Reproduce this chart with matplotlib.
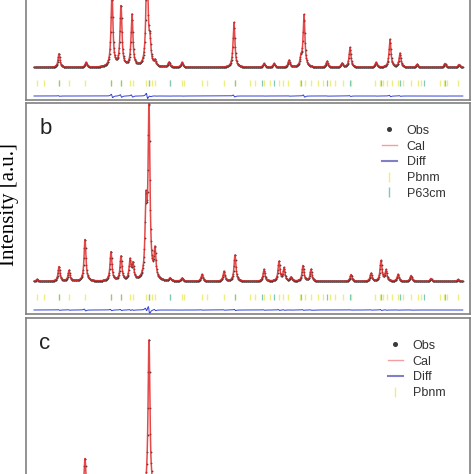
import numpy as np
import matplotlib
matplotlib.use("Agg")
import matplotlib.pyplot as plt
from matplotlib.lines import Line2D

# peak positions (2theta-like units) and heights (a.u.) per panel
pos_a = [59, 86, 112, 121, 132, 147, 150, 155, 169, 182, 234, 264, 274, 289, 301, 304, 327, 342, 350, 376, 390, 400, 417, 445, 459]
hgt_a = [14, 5, 75, 62, 52, 120, 20, 5, 5, 5, 45, 4, 4, 7, 8, 52, 6, 4, 20, 5, 28, 14, 3, 4, 3]
pos_b = [37, 59, 69, 85, 111, 121, 130, 133, 146, 149, 155, 170, 182, 202, 224, 235, 264, 279, 284, 291, 303, 311, 351, 371, 381, 386, 398, 411, 431, 458]
hgt_b = [2, 15, 11, 43, 30, 25, 20, 16, 70, 173, 29, 3, 3, 7, 10, 27, 12, 20, 13, 4, 16, 12, 7, 8, 21, 11, 7, 6, 3, 2]
pos_c = [59, 85, 111, 121, 131, 149, 155, 235, 281, 304, 382]
hgt_c = [10, 39, 20, 18, 15, 161, 12, 18, 14, 12, 14]
pbnm = [37, 44, 59, 69, 85, 111, 121, 130, 133, 146, 149, 152, 155, 170, 182, 184, 202, 207, 224, 235, 250, 255, 264, 270, 279, 283, 288, 300, 305, 311, 318, 323, 330, 335, 343, 351, 375, 380, 383, 387, 392, 398, 403, 411, 418, 421, 440, 444, 447, 458]
p63cm = [59, 111, 121, 149, 170, 235, 262, 274, 301, 327, 350, 381, 400, 424, 445]

x = np.arange(34, 463, 0.4)

def profile(pos, hgt):
    y = np.zeros_like(x)
    for p, h in zip(pos, hgt):
        y += h / (1 + ((x - p) / 1.1) ** 2)
    return y + 1.5

fig = plt.figure(figsize=(4.74, 4.74), dpi=100)
plt.rcParams['font.family'] = ['Liberation Sans', 'DejaVu Sans']
H = 474.0
C_OBS, C_CAL, C_DIF, C_PB, C_P6 = '#3a3a3a', '#e02828', '#3040d8', '#eeee80', '#80c8b8'

def panel(top_px, bot_px, pos, hgt, label, legend, with_p63):
    ax = fig.add_axes([26 / H, 1 - bot_px / H, 444 / H, (bot_px - top_px) / H])
    cal = profile(pos, hgt)
    ax.plot(x, cal, 'o', color=C_OBS, ms=1.3, mew=0, zorder=3)
    ax.plot(x, cal, color=C_CAL, lw=1.1, alpha=0.85, zorder=4)
    diff = -27 + np.gradient(cal) * 0.1
    ax.plot(x, diff, color=C_DIF, lw=0.7)
    ax.vlines(pbnm, -17, -11, color=C_PB, lw=1.0)
    if with_p63:
        ax.vlines(p63cm, -17, -11, color=C_P6, lw=0.9)
    ax.set_xlim(26, 470)
    ax.set_ylim(-31, 180)
    ax.set_xticks([]); ax.set_yticks([])
    for s in ax.spines.values():
        s.set_color('#808080'); s.set_linewidth(1.2)
    if label:
        ax.text(0.03, 0.93, label, transform=ax.transAxes, fontsize=16, va='top', color='#222222')
    if legend:
        hh = [Line2D([], [], ls='none', marker='o', ms=2.6, color=C_OBS),
              Line2D([], [], color='#f0a0a0', lw=1),
              Line2D([], [], color='#8080c8', lw=1.5),
              Line2D([], [], ls='none', marker='|', ms=7, color=C_PB),
              Line2D([], [], ls='none', marker='|', ms=7, color=C_P6)]
        ll = ['Obs', 'Cal', 'Diff', 'Pbnm', 'P63cm']
        if not with_p63:
            hh, ll = hh[:4], ll[:4]
        leg = ax.legend(hh, ll, loc='upper right', frameon=False, fontsize=9,
                        bbox_to_anchor=(0.97, 0.95), handlelength=1.2, labelspacing=0.3)
        for t in leg.get_texts():
            t.set_color('#333333')
    return ax

panel(-111, 100, pos_a, hgt_a, None, False, True)
panel(103, 314, pos_b, hgt_b, 'b', True, True)
panel(318, 529, pos_c, hgt_c, 'c', True, False)

fig.text(10 / H, 1 - 205 / H, 'Intensity [a.u.]', rotation=90, va='center', ha='center',
         fontsize=15, family='Liberation Serif')
fig.savefig('out.png', dpi=100)
